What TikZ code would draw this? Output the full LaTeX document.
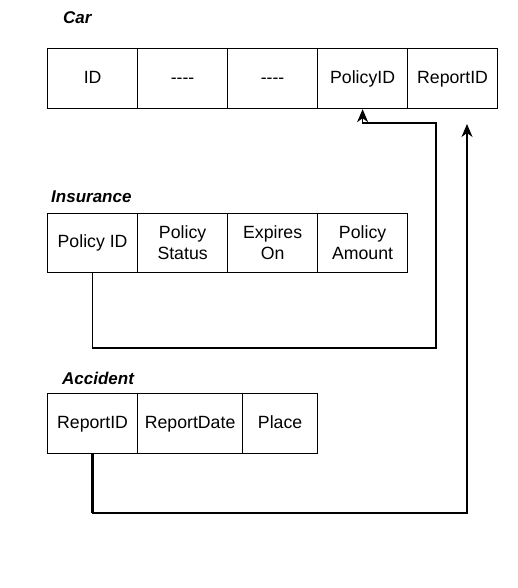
\documentclass[tikz,border=0pt]{standalone}
\usepackage{fontspec}
\setmainfont{Liberation Sans}
\usetikzlibrary{arrows.meta}
\begin{document}
\begin{tikzpicture}[x=1pt,y=-1pt,
  cell/.style={draw, line width=1.2pt, minimum height=60pt, inner sep=0pt, align=center,
    font=\fontsize{17.7}{21}\selectfont, anchor=north west},
  one/.style={text height=12.7pt, text depth=3.7pt},
  title/.style={font=\fontsize{17}{20}\selectfont\bfseries\itshape, anchor=west, inner sep=0pt},
  conn/.style={line width=1.2pt, -{Stealth[length=13pt,width=11pt,inset=4pt]}},
  thickseg/.style={line width=2.4pt}]
\useasboundingbox (0,0) rectangle (518,588);
% Car
\node[title] (tcar) at (63,18) {Car};
\node[cell, one, minimum width=90pt] (c1) at (47,48) {ID};
\node[cell, one, minimum width=90pt] (c2) at (137,48) {-{}-{}-{}-};
\node[cell, one, minimum width=90pt] (c3) at (227,48) {-{}-{}-{}-};
\node[cell, one, minimum width=90pt] (c4) at (317,48) {PolicyID};
\node[cell, one, minimum width=90pt] (c5) at (407,48) {ReportID};
% Insurance
\node[title] (tins) at (51,197) {Insurance};
\node[cell, one, minimum width=90pt, minimum height=59pt] (i1) at (47,213) {Policy ID};
\node[cell, minimum width=90pt, minimum height=59pt] (i2) at (137,213) {Policy\\Status};
\node[cell, minimum width=90pt, minimum height=59pt] (i3) at (227,213) {Expires\\On};
\node[cell, minimum width=90pt, minimum height=59pt] (i4) at (317,213) {Policy\\Amount};
% Accident
\node[title] (tacc) at (62,378) {Accident};
\node[cell, one, minimum width=90pt] (a1) at (47,393) {ReportID};
\node[cell, one, minimum width=105pt] (a2) at (137,393) {ReportDate};
\node[cell, one, minimum width=75pt] (a3) at (242,393) {Place};
% connectors
\coordinate (p1) at (436,348);
\coordinate (p2) at (436,123);
\draw[conn] (i1.south) |- (p1) -- (p2) -| (c4.south);
\coordinate (q1) at (467,513);
\coordinate (q2) at (467,124);
\draw[conn] (a1.south) |- (q1) -- (q2);
\draw[thickseg] (a1.south) -- (a1.south |- q1);
\end{tikzpicture}
\end{document}
